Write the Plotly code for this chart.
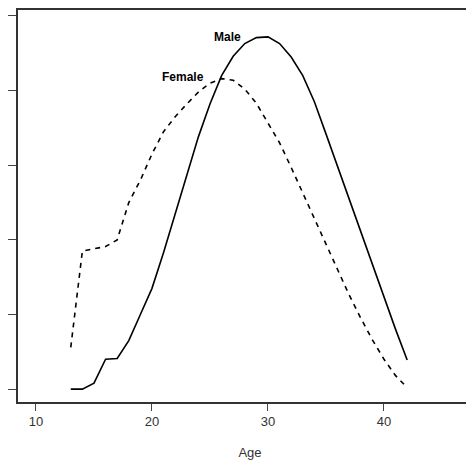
import plotly.graph_objects as go

age = list(range(13, 43))
male = [0.0, 0.0, 0.08, 0.4, 0.41, 0.65, 1.0, 1.35, 1.83, 2.35, 2.88, 3.38, 3.82, 4.2, 4.46,
        4.63, 4.71, 4.72, 4.63, 4.45, 4.2, 3.85, 3.42, 2.98, 2.55, 2.1, 1.66, 1.24, 0.8, 0.39]
female = [0.56, 1.85, 1.88, 1.91, 2.0, 2.5, 2.8, 3.15, 3.45, 3.65, 3.82, 3.98, 4.1, 4.16, 4.14,
          4.02, 3.83, 3.57, 3.3, 2.97, 2.63, 2.3, 1.94, 1.6, 1.26, 0.95, 0.66, 0.4, 0.18, 0.02]

fig = go.Figure()
fig.add_trace(go.Scatter(x=age, y=female, mode='lines', name='Female',
                         line=dict(color='black', width=1.6, dash='5px,5px')))
fig.add_trace(go.Scatter(x=age, y=male, mode='lines', name='Male',
                         line=dict(color='black', width=1.6)))

fig.add_annotation(x=26.5, y=4.72, text='<b>Male</b>', showarrow=False,
                   xanchor='center', font=dict(size=12, color='black', family='Liberation Sans'))
fig.add_annotation(x=22.7, y=4.18, text='<b>Female</b>', showarrow=False,
                   xanchor='center', font=dict(size=12, color='black', family='Liberation Sans'))

fig.update_layout(
    width=474, height=474,
    margin=dict(l=10, r=0, t=0, b=80),
    plot_bgcolor='white', paper_bgcolor='white',
    showlegend=False,
    font=dict(family='Liberation Sans', color='#333'),
)
fig.update_xaxes(range=[8.45, 48.45], tickvals=[10, 20, 30, 40], ticks='outside', ticklen=7,
                 showline=True, linecolor='#333', linewidth=1.5, mirror=True, showgrid=False,
                 zeroline=False, tickfont=dict(size=13),
                 title=dict(text='Age', font=dict(size=13), standoff=20))
fig.update_yaxes(range=[-0.173, 5.08], tickvals=[0, 1, 2, 3, 4, 5], ticks='outside', ticklen=10,
                 showticklabels=False, showline=True, linecolor='#333', linewidth=1.5,
                 showgrid=False, zeroline=False)

fig.write_html("out.html")
